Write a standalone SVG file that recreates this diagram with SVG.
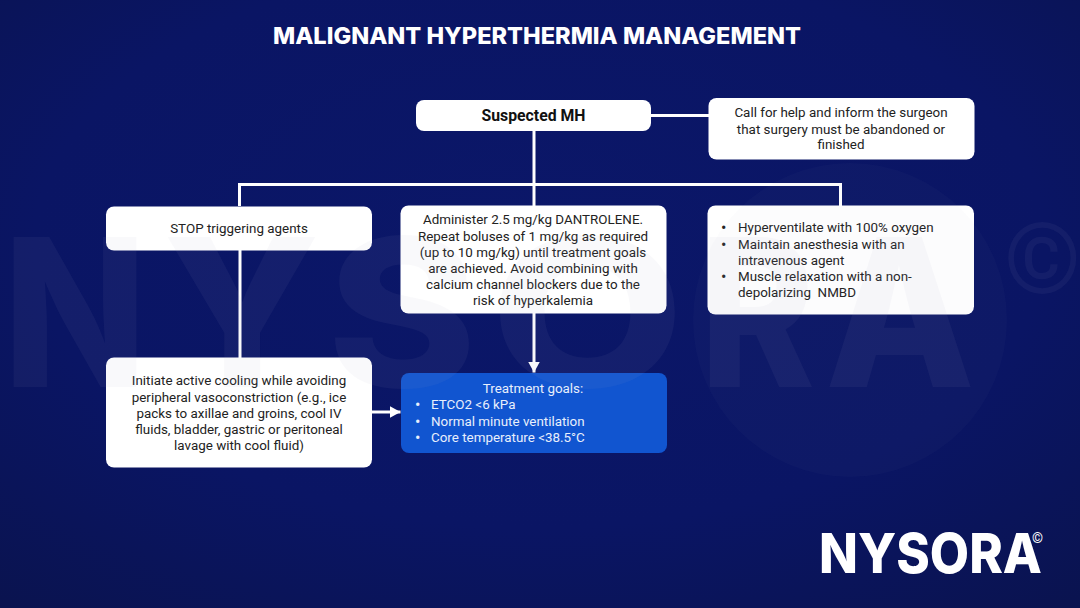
<svg xmlns="http://www.w3.org/2000/svg" width="1080" height="608" viewBox="0 0 1080 608">
<style>
text{font-family:Roboto,"Liberation Sans",sans-serif;font-size:13.400px;fill:#222}
.c{text-anchor:middle}
.box{fill:#fff}
.l{stroke:#fff;stroke-width:3;fill:none}
.g text{fill:#e8effc}
.m{font-family:Inter,"Liberation Sans",sans-serif;font-size:206px;font-weight:800;fill:#a8acc8;fill-opacity:.065}
.b{font-size:16px}
</style>
<defs>
<radialGradient id="bg" cx="50%" cy="40%" r="78%">
<stop offset="0" stop-color="#0b1769"/>
<stop offset="0.6" stop-color="#0a1564"/>
<stop offset="1" stop-color="#0a134f"/>
</radialGradient>
<marker id="a" markerUnits="userSpaceOnUse" markerWidth="11" markerHeight="12" refX="11" refY="6" orient="auto"><path d="M0 0L11 6L0 12Z" fill="#fff"/></marker>
</defs>
<rect id="background" width="1080" height="608" fill="url(#bg)"/>
<text id="title" x="537" y="43.500" class="c" style="font-family:Inter,'Liberation Sans',sans-serif;font-size:22.500px;font-weight:800;fill:#fff" textLength="528" lengthAdjust="spacingAndGlyphs">MALIGNANT HYPERTHERMIA MANAGEMENT</text>
<g id="connectors">
<path class="l" d="M651 115.500H709"/>
<path class="l" d="M534 131V206"/>
<path class="l" d="M239.500 206V184.500H840.500V206"/>
<path class="l" d="M240 250V358"/>
<path class="l" d="M534 313V372.500" marker-end="url(#a)" stroke-width="2.500"/>
<path class="l" d="M372 412H400.500" marker-end="url(#a)"/>
</g>
<g id="node-suspected"><rect class="box" x="416" y="100" width="235" height="31" rx="8"/><text x="533.500" y="121" class="c" style="font-size:15.800px;font-weight:700;fill:#111">Suspected MH</text></g>
<g id="node-call"><rect class="box" x="708.500" y="98" width="266" height="61.500" rx="8"/>
<text class="c" x="841" y="117">Call for help and inform the surgeon</text><text class="c" x="841" y="133.500">that surgery must be abandoned or</text><text class="c" x="841" y="149">finished</text></g>
<g id="node-stop"><rect class="box" x="106" y="206.500" width="266" height="44" rx="8"/><text class="c" x="239" y="233">STOP triggering agents</text></g>
<g id="node-dantrolene"><rect class="box" x="400.500" y="205.500" width="266" height="108" rx="8"/>
<text class="c" x="533" y="224">Administer 2.5 mg/kg DANTROLENE.</text><text class="c" x="533" y="240.500">Repeat boluses of 1 mg/kg as required</text><text class="c" x="533" y="256.500">(up to 10 mg/kg) until treatment goals</text><text class="c" x="533" y="272.500">are achieved. Avoid combining with</text><text class="c" x="533" y="288.500">calcium channel blockers due to the</text><text class="c" x="533" y="305">risk of hyperkalemia</text></g>
<g id="node-ventilate"><rect class="box" x="707.500" y="205.500" width="266.500" height="109" rx="8"/>
<text class="b" x="721" y="233">•</text><text x="738" y="232">Hyperventilate with 100% oxygen</text><text class="b" x="721" y="250">•</text><text x="738" y="249">Maintain anesthesia with an</text><text x="738" y="265">intravenous agent</text><text class="b" x="721" y="282">•</text><text x="738" y="281">Muscle relaxation with a non-</text><text x="738" y="297" style="white-space:pre">depolarizing  NMBD</text></g>
<g id="node-cooling"><rect class="box" x="106" y="357.500" width="266" height="110" rx="8"/>
<text class="c" x="239" y="385">Initiate active cooling while avoiding</text><text class="c" x="239" y="401.500">peripheral vasoconstriction (e.g., ice</text><text class="c" x="239" y="417.500">packs to axillae and groins, cool IV</text><text class="c" x="239" y="433.500">fluids, bladder, gastric or peritoneal</text><text class="c" x="239" y="450">lavage with cool fluid)</text></g>
<g id="node-goals" class="g"><rect x="401" y="373" width="266" height="80" rx="8" fill="#1155d0"/>
<text class="c" x="533" y="393">Treatment goals:</text><text class="b" x="415" y="410">•</text><text x="431" y="409">ETCO2 &lt;6 kPa</text><text class="b" x="415" y="427">•</text><text x="431" y="426">Normal minute ventilation</text><text class="b" x="415" y="443">•</text><text x="431" y="442">Core temperature &lt;38.5°C</text></g>
<g id="watermark">
<circle cx="850" cy="320" r="157" fill="#a8acc8" fill-opacity=".03"/>
<text class="m" x="3" y="387" textLength="144" lengthAdjust="spacingAndGlyphs">N</text>
<text class="m" x="163" y="387" textLength="157" lengthAdjust="spacingAndGlyphs">Y</text>
<text class="m" x="327" y="387" textLength="150" lengthAdjust="spacingAndGlyphs">S</text>
<text class="m" x="490" y="387" textLength="195" lengthAdjust="spacingAndGlyphs">O</text>
<text class="m" x="700" y="387" textLength="115" lengthAdjust="spacingAndGlyphs">R</text>
<text class="m" x="825" y="387" textLength="150" lengthAdjust="spacingAndGlyphs">A</text>
<text x="1004" y="293" style="font-size:98px;font-weight:500;fill:#a8acc8;fill-opacity:.065">©</text>
</g>
<g id="logo"><text x="819" y="573" style="font-family:Inter,'Liberation Sans',sans-serif;font-size:55px;font-weight:800;fill:#fff" textLength="223" lengthAdjust="spacingAndGlyphs">NYSORA</text><text x="1032" y="543" style="font-size:14px;fill:#fff">©</text></g>
</svg>
